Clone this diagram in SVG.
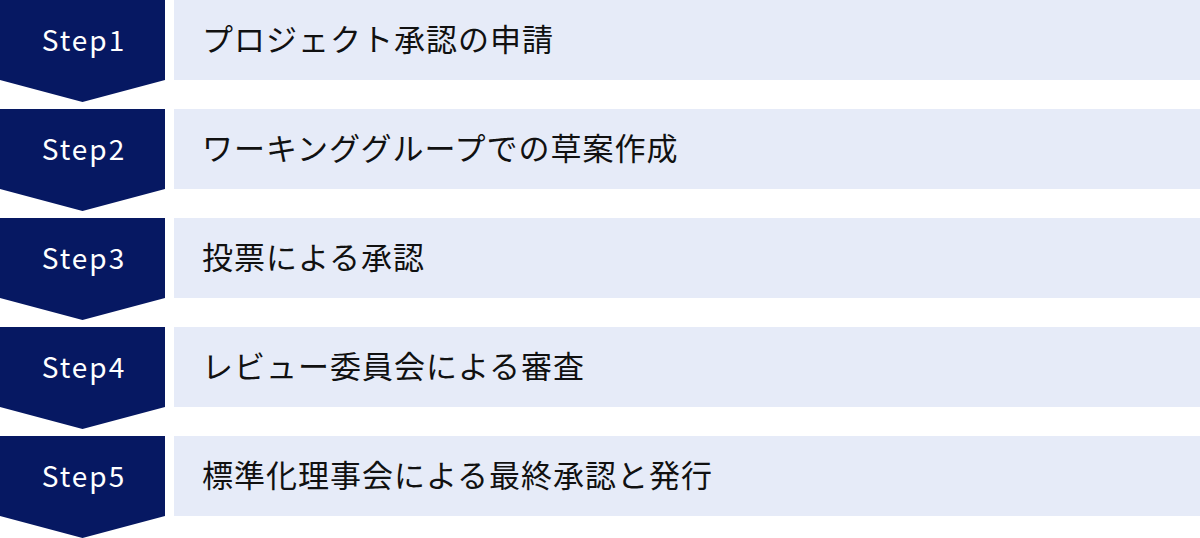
<svg xmlns="http://www.w3.org/2000/svg" width="1200" height="538" viewBox="0 0 1200 538">
<style>
.chev{fill:#061862}
.box{fill:#e6ebf8}
.st{font-family:"Noto Sans CJK JP","Noto Sans",sans-serif;font-size:28px;fill:#ffffff;text-anchor:middle;letter-spacing:2px}
.lb{font-family:"Noto Sans CJK JP","Noto Sans",sans-serif;font-size:31px;fill:#111111;letter-spacing:1px}
</style>
<defs>
<path id="chevron" d="M0 0H165V80L82.5 102L0 80Z"/>
</defs>
<g id="connectors"></g>
<g id="step1">
<use href="#chevron" class="chev"/>
<rect class="box" x="174" y="0" width="1026" height="80"/>
<text class="st" x="84" y="51">Step1</text>
<text class="lb" x="202" y="51">プロジェクト承認の申請</text>
</g>
<g id="step2" transform="translate(0,109)">
<use href="#chevron" class="chev"/>
<rect class="box" x="174" y="0" width="1026" height="80"/>
<text class="st" x="84" y="51">Step2</text>
<text class="lb" x="202" y="51">ワーキンググループでの草案作成</text>
</g>
<g id="step3" transform="translate(0,218)">
<use href="#chevron" class="chev"/>
<rect class="box" x="174" y="0" width="1026" height="80"/>
<text class="st" x="84" y="51">Step3</text>
<text class="lb" x="202" y="51">投票による承認</text>
</g>
<g id="step4" transform="translate(0,327)">
<use href="#chevron" class="chev"/>
<rect class="box" x="174" y="0" width="1026" height="80"/>
<text class="st" x="84" y="51">Step4</text>
<text class="lb" x="202" y="51">レビュー委員会による審査</text>
</g>
<g id="step5" transform="translate(0,436)">
<use href="#chevron" class="chev"/>
<rect class="box" x="174" y="0" width="1026" height="80"/>
<text class="st" x="84" y="51">Step5</text>
<text class="lb" x="202" y="51">標準化理事会による最終承認と発行</text>
</g>
</svg>
